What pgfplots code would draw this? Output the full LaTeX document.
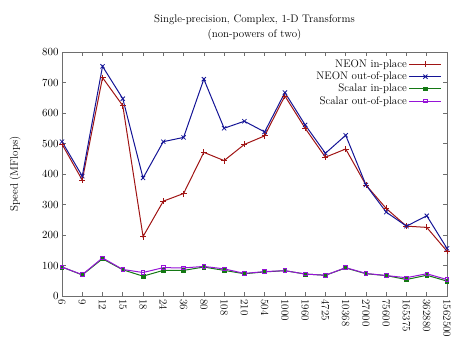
\documentclass[border=0pt]{standalone}
\usepackage{pgfplots}
\pgfplotsset{compat=1.18}
\usepackage{pgfplotstable}
\definecolor{neonin}{RGB}{160,20,20}
\definecolor{neonout}{RGB}{20,20,150}
\definecolor{scalin}{RGB}{20,120,20}
\definecolor{scalout}{RGB}{150,20,215}
\definecolor{axgray}{RGB}{110,110,110}
\newcommand{\chartfont}{\fontsize{11}{15}\selectfont}
\pgfplotstableread{
x ni no si so
0 498 506 95 95
1 380 393 69 70
2 716 753 122 125
3 624 647 86 87
4 195 387 65 77
5 311 506 84 93
6 336 520 84 92
7 471 711 95 97
8 444 550 84 89
9 497 573 73 74
10 525 538 79 80
11 656 667 83 83
12 550 561 72 72
13 455 468 68 68
14 482 527 92 93
15 364 364 73 74
16 287 275 67 67
17 229 229 54 60
18 225 263 68 73
19 147 156 49 54
}\data
\begin{document}
\begin{tikzpicture}
\begin{axis}[name=ax, scale only axis, width=385bp, height=244bp,
  xmin=0, xmax=19, ymin=0, ymax=800,
  ytick={0,100,...,800},
  xtick={0,...,19},
  xticklabels={6,9,12,15,18,24,36,80,108,210,504,1000,1960,4725,10368,27000,75600,165375,362880,1562500},
  xticklabel style={rotate=-90, anchor=west, font=\chartfont},
  yticklabel style={font=\chartfont},
  tick pos=both, tick align=inside, major tick length=4bp,
  axis line style={axgray, line width=0.6pt},
  every tick/.style={axgray, line width=0.6pt},
  title={Single-precision, Complex, 1-D Transforms\\(non-powers of two)},
  title style={align=center, font=\chartfont, at={(axis description cs:0.5,1)}, anchor=south, yshift=2bp},
  ylabel={Speed (MFlops)},
  ylabel style={at={(axis description cs:-0.122,0.5)}, anchor=center, font=\chartfont},
  legend plot pos=right, legend cell align=right,
  legend style={draw=none, fill=none, at={(axis description cs:0.995,0.985)}, anchor=north east, font=\chartfont, row sep=-1bp},
  legend image code/.code={\draw[mark repeat=2,mark phase=2] plot coordinates {(0bp,0bp) (16bp,0bp) (32bp,0bp)};},
  every axis plot/.append style={line width=1pt},
]
\addplot[neonin, mark=+, mark size=3pt, mark options={line width=0.8pt}] table[x=x,y=ni]{\data};
\addlegendentry{NEON in-place}
\addplot[neonout, mark=x, mark size=3pt, mark options={line width=0.8pt}] table[x=x,y=no]{\data};
\addlegendentry{NEON out-of-place}
\addplot[scalin, mark=square*, mark size=1.8pt, mark options={line width=0.6pt}] table[x=x,y=si]{\data};
\addlegendentry{Scalar in-place}
\addplot[scalout, mark=square, mark size=1.8pt, mark options={line width=0.8pt}] table[x=x,y=so]{\data};
\addlegendentry{Scalar out-of-place}
\end{axis}
\path (ax.south west) ++(-62bp,-59bp) rectangle ++(474bp,355bp);
\end{tikzpicture}
\end{document}
